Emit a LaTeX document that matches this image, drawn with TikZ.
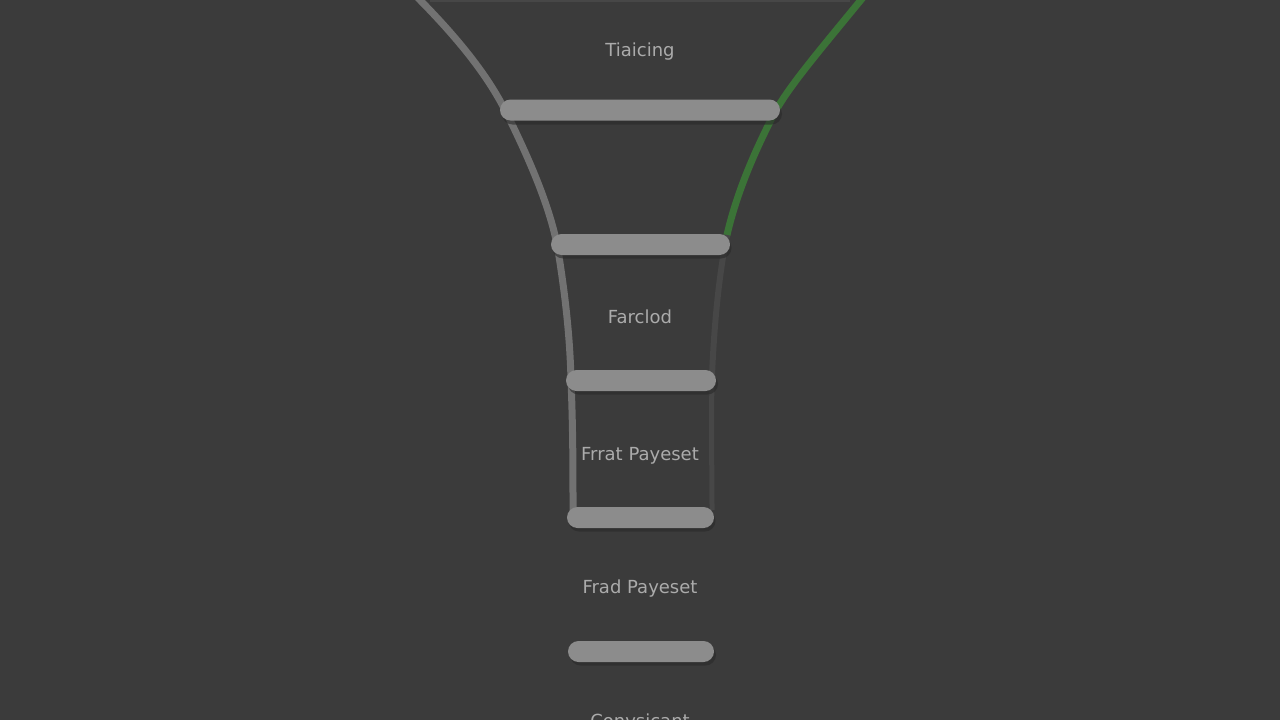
\documentclass[tikz,border=0pt]{standalone}
\usepackage{fontspec}
\setmainfont{DejaVu Sans}
\definecolor{bgc}{HTML}{3B3B3B}
\definecolor{barc}{HTML}{8C8C8C}
\definecolor{shadc}{HTML}{2A2A2A}
\definecolor{txtc}{HTML}{ABABAB}
\definecolor{leftc}{HTML}{727272}
\definecolor{greenc}{HTML}{3B7337}
\definecolor{fadec}{HTML}{474747}
\tikzset{
  barbox/.style={fill=barc, rounded corners=10.5pt, minimum height=21pt, inner sep=0pt},
  barshadow/.style={fill=shadc, opacity=0.6, rounded corners=10.5pt, minimum height=21pt, inner sep=0pt},
  lbl/.style={text=txtc, font=\fontsize{18}{21}\selectfont, inner sep=0pt},
}
\begin{document}
\begin{tikzpicture}[x=1pt,y=-1pt]
\fill[bgc] (0,0) rectangle (1280,720);
\useasboundingbox (0,0) rectangle (1280,720);
\begin{scope}
\clip (0,0) rectangle (1280,720);
% faint top edge
\draw[fadec, line width=3pt] (430,0) -- (850,0);
% funnel sides
\draw[leftc, line width=7pt, line cap=round] (415,-5) .. controls (470,50) and (492,85) .. (505,110)
  .. controls (535,170) and (552,215) .. (558,250)
  .. controls (566,300) and (570,340) .. (571,380)
  .. controls (573,430) and (573,470) .. (573,510);
\draw[greenc, line width=7pt, line cap=round] (865,-5) .. controls (820,50) and (790,85) .. (775,112)
  .. controls (750,160) and (735,200) .. (727,235);
\draw[fadec, line width=6pt] (727,235) .. controls (718,280) and (714,330) .. (712,375);
\draw[fadec, line width=5pt] (712,380) .. controls (711,430) and (712,470) .. (712,510);
% bars
\node[barshadow, minimum width=280pt] at (642,114) {};
\node[barbox, minimum width=280pt] (b1) at (640,110) {};
\node[barshadow, minimum width=179pt] at (642,248) {};
\node[barbox, minimum width=179pt] (b2) at (640.5,244.5) {};
\node[barshadow, minimum width=150pt] at (643,384) {};
\node[barbox, minimum width=150pt] (b3) at (641,380.5) {};
\node[barshadow, minimum width=147pt] at (642,521) {};
\node[barbox, minimum width=147pt] (b4) at (640.5,517.5) {};
\node[barshadow, minimum width=146pt] at (643,655) {};
\node[barbox, minimum width=146pt] (b5) at (641,651.5) {};
% labels
\node[lbl] (t1) at (640,52) {Tiaicing};
\node[lbl] (t2) at (640,317) {Farclod};
\node[lbl] (t3) at (640,456) {Frrat Payeset};
\node[lbl] (t4) at (640,589) {Frad Payeset};
\node[lbl] (t5) at (640,721) {Convsicant};
\end{scope}
\end{tikzpicture}
\end{document}
